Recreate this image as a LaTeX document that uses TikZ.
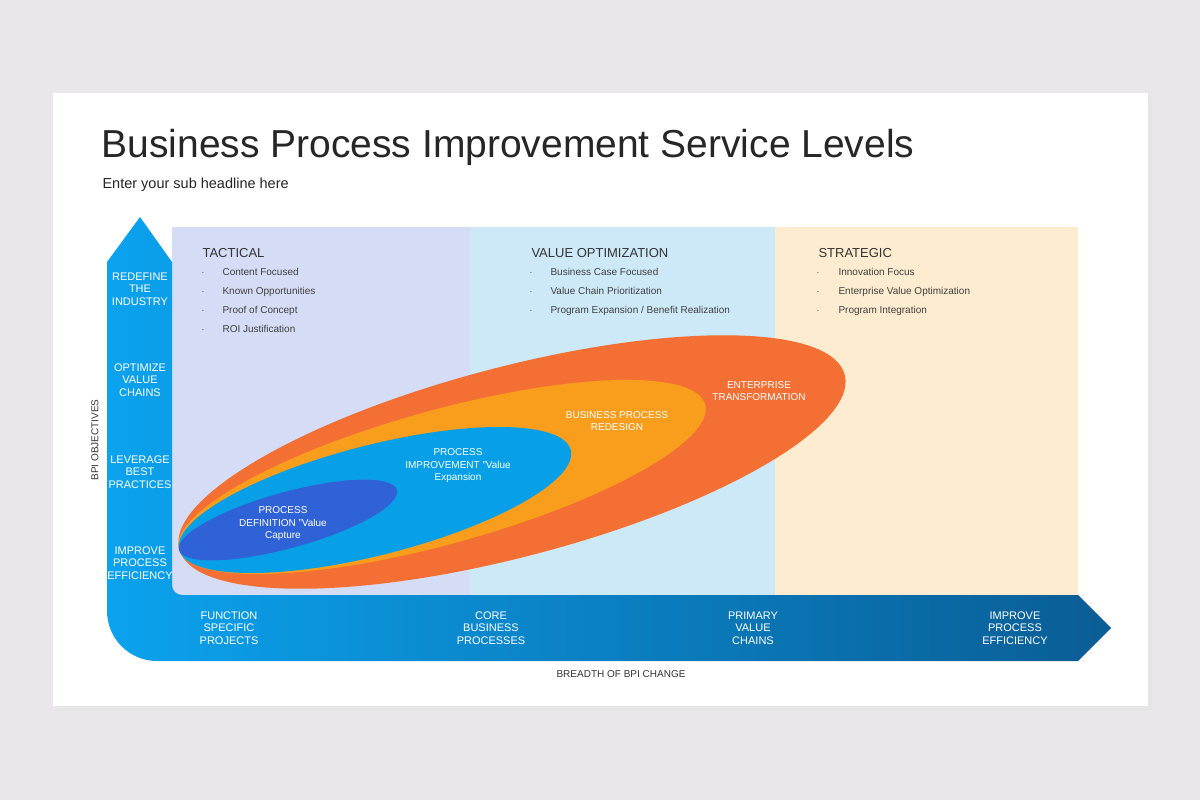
\documentclass[tikz,border=0pt]{standalone}
\usepackage{fontspec}
\setmainfont{Liberation Sans}
\begin{document}
\begin{tikzpicture}[x=1pt,y=1pt,
  axlab/.style={text=white,font=\fontsize{11}{12.5}\selectfont,align=center},
  ellab/.style={text=white,font=\fontsize{10}{12.5}\selectfont,align=center},
  head/.style={anchor=base west,text=black!80,font=\fontsize{13}{15}\selectfont},
  bul/.style={anchor=base west,text=black!75,font=\fontsize{10}{12}\selectfont}]
\definecolor{bg}{HTML}{E9E7E9}
\definecolor{ptac}{HTML}{D5DCF5}
\definecolor{pval}{HTML}{CDE9F8}
\definecolor{pstr}{HTML}{FDECD0}
\definecolor{eor}{HTML}{F46F34}
\definecolor{eye}{HTML}{F99D1C}
\definecolor{elb}{HTML}{07A0E8}
\definecolor{edb}{HTML}{2F62D6}
\definecolor{bl1}{HTML}{0BA2EE}
\definecolor{bl2}{HTML}{0A5D95}
\useasboundingbox (0,0) rectangle (1200,-800);
\fill[bg] (0,0) rectangle (1200,-800);
\fill[black!10] (56,-97) rectangle (1152,-711);
\fill[white] (53,-93) rectangle (1148,-706);
\node[anchor=base west,font=\fontsize{39}{42}\selectfont,text=black!85] (title) at (98,-157) {Business Process Improvement Service Levels};
\node[anchor=base west,font=\fontsize{14.5}{16}\selectfont,text=black!85] (sub) at (99,-188) {Enter your sub headline here};
% panels
\fill[ptac] (172,-227) rectangle (470,-595);
\fill[pval] (470,-227) rectangle (775,-595);
\fill[pstr] (775,-227) rectangle (1078,-595);
% ellipses
\fill[eor, rotate around={14.7:(512,-462)}] (512,-462) ellipse [x radius=344, y radius=95];
\fill[eye, rotate around={15.4:(442,-477)}] (442,-477) ellipse [x radius=273, y radius=67];
\fill[elb, rotate around={14.3:(375,-500)}] (375,-500) ellipse [x radius=202, y radius=55];
\fill[edb, rotate around={15.4:(288,-520)}] (288,-520) ellipse [x radius=113, y radius=28];
% L arrow
\shade[left color=bl1,right color=bl2] (107,-262) -- (140,-217) -- (172,-262) -- (172,-585)
  arc[start angle=180,end angle=270,radius=10] -- (1078,-595) -- (1111,-628) -- (1078,-661)
  -- (157,-661) arc[start angle=270,end angle=180,radius=50] -- cycle;
% axis labels
\node[axlab] (y1) at (140,-289) {REDEFINE\\THE\\INDUSTRY};
\node[axlab] (y2) at (140,-380) {OPTIMIZE\\VALUE\\CHAINS};
\node[axlab] (y3) at (140,-472) {LEVERAGE\\BEST\\PRACTICES};
\node[axlab] (y4) at (140,-563) {IMPROVE\\PROCESS\\EFFICIENCY};
\node[axlab] (x1) at (229,-628) {FUNCTION\\SPECIFIC\\PROJECTS};
\node[axlab] (x2) at (491,-628) {CORE\\BUSINESS\\PROCESSES};
\node[axlab] (x3) at (753,-628) {PRIMARY\\VALUE\\CHAINS};
\node[axlab] (x4) at (1015,-628) {IMPROVE\\PROCESS\\EFFICIENCY};
\node[rotate=90,font=\fontsize{10}{12}\selectfont,text=black!80] (yt) at (95,-440) {BPI OBJECTIVES};
\node[font=\fontsize{10}{12}\selectfont,text=black!80] (xt) at (621,-674) {BREADTH OF BPI CHANGE};
% ellipse labels
\node[ellab] (e1) at (759,-391) {ENTERPRISE\\TRANSFORMATION};
\node[ellab] (e2) at (617,-421) {BUSINESS PROCESS\\REDESIGN};
\node[ellab] (e3) at (458,-466) {PROCESS\\IMPROVEMENT "Value\\Expansion};
\node[ellab] (e4) at (283,-524) {PROCESS\\DEFINITION "Value\\Capture};
% panel headings and bullets
\node[head] (h1) at (199,-257) {TACTICAL};
\node[head] (h2) at (528,-257) {VALUE OPTIMIZATION};
\node[head] (h3) at (815,-257) {STRATEGIC};
\foreach \t [count=\i] in {Content Focused,Known Opportunities,Proof of Concept,ROI Justification}{
  \node[bul] (ta\i) at (198,-275-19*\i+19) {$\cdot$};
  \node[bul] (tb\i) at (219,-275-19*\i+19) {\t};}
\foreach \t [count=\i] in {Business Case Focused,Value Chain Prioritization,Program Expansion / Benefit Realization}{
  \node[bul] (va\i) at (526,-275-19*\i+19) {$\cdot$};
  \node[bul] (vb\i) at (547,-275-19*\i+19) {\t};}
\foreach \t [count=\i] in {Innovation Focus,Enterprise Value Optimization,Program Integration}{
  \node[bul] (sa\i) at (813,-275-19*\i+19) {$\cdot$};
  \node[bul] (sb\i) at (835,-275-19*\i+19) {\t};}
\end{tikzpicture}
\end{document}
